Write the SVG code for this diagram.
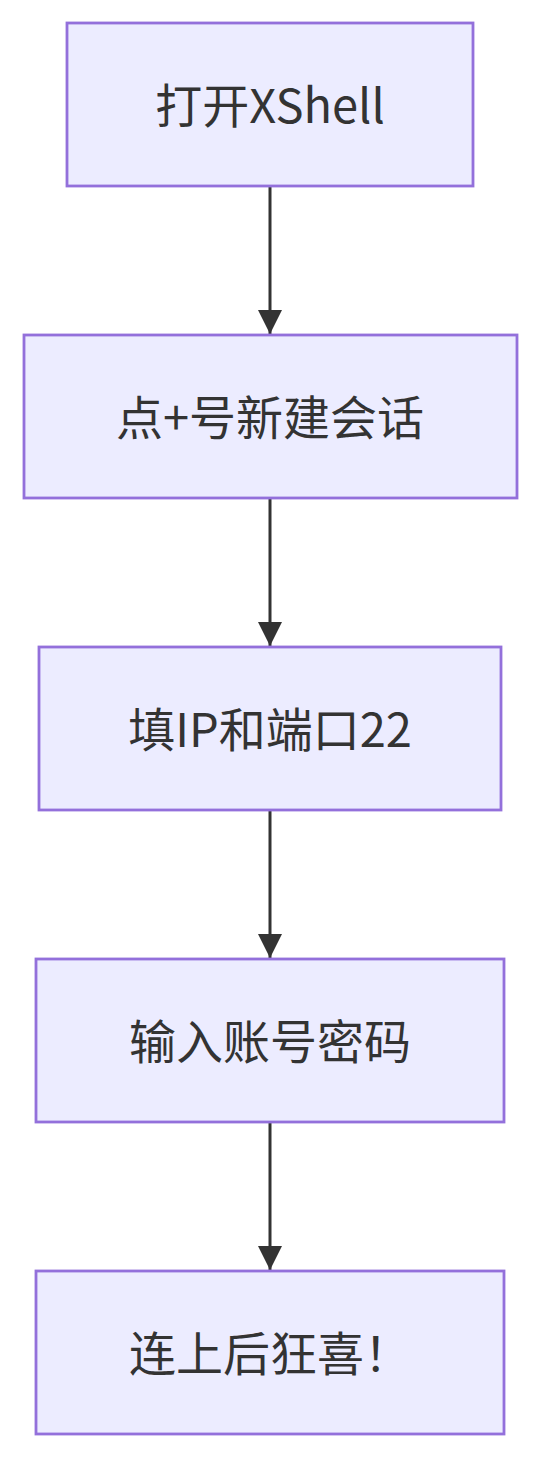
<svg xmlns="http://www.w3.org/2000/svg" width="541" height="1458" viewBox="0 0 541 1458">
<defs>
<style>
.node rect{fill:#ECECFF;stroke:#9370DB;stroke-width:2.8}
.node text{font-family:"Noto Sans CJK SC","Noto Sans",sans-serif;font-size:47px;fill:#333333;text-anchor:middle;dominant-baseline:central}
.edge{stroke:#333333;stroke-width:3;fill:none}
</style>
<marker id="arrow" viewBox="0 0 10 10" refX="10" refY="5" markerUnits="userSpaceOnUse" markerWidth="24" markerHeight="24" orient="auto">
<path d="M0,0 L10,5 L0,10 z" fill="#333333"/>
</marker>
</defs>
<rect width="541" height="1458" fill="#ffffff"/>
<g id="connectors">
<line class="edge" x1="270" y1="186" x2="270" y2="334" marker-end="url(#arrow)"/>
<line class="edge" x1="270" y1="498" x2="270" y2="646" marker-end="url(#arrow)"/>
<line class="edge" x1="270" y1="810" x2="270" y2="958" marker-end="url(#arrow)"/>
<line class="edge" x1="270" y1="1122" x2="270" y2="1270" marker-end="url(#arrow)"/>
</g>
<g id="n1" class="node"><rect x="67" y="23" width="406" height="163"/><text x="270" y="102">打开XShell</text></g>
<g id="n2" class="node"><rect x="24" y="335" width="493" height="163"/><text x="270" y="414">点+号新建会话</text></g>
<g id="n3" class="node"><rect x="39" y="647" width="462" height="163"/><text x="270" y="726">填IP和端口22</text></g>
<g id="n4" class="node"><rect x="36" y="959" width="468" height="163"/><text x="270" y="1038">输入账号密码</text></g>
<g id="n5" class="node"><rect x="36" y="1271" width="468" height="163"/><text x="270" y="1350">连上后狂喜！</text></g>
</svg>
